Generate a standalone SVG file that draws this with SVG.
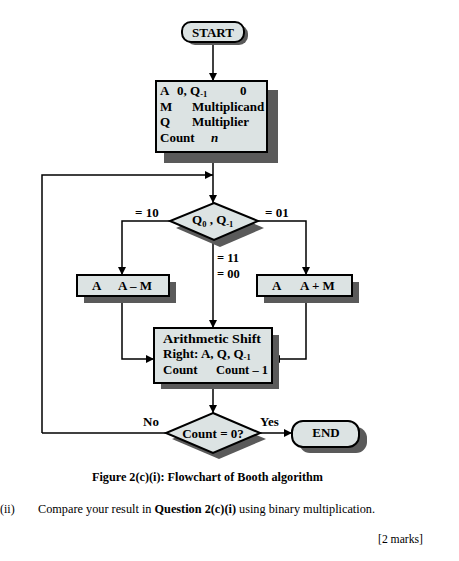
<svg xmlns="http://www.w3.org/2000/svg" width="459" height="561" viewBox="0 0 459 561">
<style>
text{font-family:"Liberation Serif","Times New Roman",serif;font-weight:bold;font-size:13px;fill:#000}
.n{font-weight:normal}
.box{fill:#dce3e3;stroke:#000;stroke-width:2}
.sh{fill:#5a5a5a}
.ln{fill:none;stroke:#000;stroke-width:1.5}
.sub{font-size:8.5px}
</style>
<defs>
<marker id="ah" viewBox="0 0 10 10" refX="10" refY="5" markerWidth="8" markerHeight="8" markerUnits="userSpaceOnUse" orient="auto">
<path d="M0,0 L10,5 L0,10 z" fill="#000"/>
</marker>
</defs>
<rect width="459" height="561" fill="#fff"/>
<g id="connectors">
<path class="ln" d="M213,42 V81" marker-end="url(#ah)"/>
<path class="ln" d="M213,152 V203" marker-end="url(#ah)"/>
<path class="ln" d="M42,433 V175 H213" marker-end="url(#ah)"/>
<path class="ln" d="M170,221 H122 V275" marker-end="url(#ah)"/>
<path class="ln" d="M258,221 H306 V275" marker-end="url(#ah)"/>
<path class="ln" d="M213,240 V328" marker-end="url(#ah)"/>
<path class="ln" d="M122,296 V359 H154" marker-end="url(#ah)"/>
<path class="ln" d="M306,296 V359 H272" marker-end="url(#ah)"/>
<path class="ln" d="M213,383 V413" marker-end="url(#ah)"/>
<path class="ln" d="M166,433 H42"/>
<path class="ln" d="M260,433 H292" marker-end="url(#ah)"/>
<text x="135" y="217">= 10</text>
<text x="265" y="217">= 01</text>
<text x="217" y="262" style="font-size:12.5px">= 11</text>
<text x="217" y="278" style="font-size:12.5px">= 00</text>
<text x="143" y="426">No</text>
<text x="260" y="426">Yes</text>
</g>
<g id="start">
<rect class="sh" x="186" y="25" width="62" height="20" rx="9"/>
<rect class="box" x="182" y="22" width="62" height="20" rx="9"/>
<text x="213" y="36.5" text-anchor="middle">START</text>
</g>
<g id="init">
<rect class="sh" x="164" y="90" width="114" height="73"/>
<rect class="box" x="156" y="81" width="111" height="71"/>
<text x="160" y="95">A</text>
<text x="177" y="95">0, Q<tspan class="sub" dy="2">-1</tspan></text>
<text x="240" y="95">0</text>
<text x="160" y="111">M</text>
<text x="192" y="111">Multiplicand</text>
<text x="160" y="126">Q</text>
<text x="192" y="126">Multiplier</text>
<text x="160" y="142">Count</text>
<text x="211" y="142" font-style="italic">n</text>
</g>
<g id="decision1">
<path class="sh" d="M220,209 L264,228 L220,247 L176,228 z"/>
<path class="box" d="M214,203 L258,221 L214,240 L170,221 z"/>
<text x="192" y="224">Q<tspan class="sub" dy="3">0</tspan><tspan dy="-3"> , Q</tspan><tspan class="sub" dy="3">-1</tspan></text>
</g>
<g id="sub">
<rect class="sh" x="84" y="282" width="92" height="21"/>
<rect class="box" x="77" y="275" width="92" height="21"/>
<text x="92" y="290">A</text>
<text x="118" y="290">A – M</text>
</g>
<g id="add">
<rect class="sh" x="264" y="282" width="95" height="21"/>
<rect class="box" x="257" y="275" width="95" height="21"/>
<text x="272" y="290">A</text>
<text x="300" y="290">A + M</text>
</g>
<g id="shift">
<rect class="sh" x="161" y="335" width="118" height="54"/>
<rect class="box" x="154" y="328" width="118" height="55"/>
<text x="163" y="343" textLength="98" lengthAdjust="spacingAndGlyphs">Arithmetic Shift</text>
<text x="163" y="358">Right: A, Q, Q<tspan class="sub" dy="2">-1</tspan></text>
<text x="163" y="374">Count</text>
<text x="216" y="374" textLength="52" lengthAdjust="spacingAndGlyphs">Count – 1</text>
</g>
<g id="decision2">
<path class="sh" d="M219,419 L266,439 L219,459 L172,439 z"/>
<path class="box" d="M213,413 L260,433 L213,453 L166,433 z"/>
<text x="213" y="437.5" text-anchor="middle">Count = 0?</text>
</g>
<g id="end">
<rect class="sh" x="299" y="427" width="68" height="26" rx="11"/>
<rect class="box" x="292" y="421" width="67" height="26" rx="11"/>
<text x="326" y="437" text-anchor="middle">END</text>
</g>
<g id="caption">
<text x="92" y="481" textLength="231" lengthAdjust="spacingAndGlyphs" style="font-size:12px">Figure 2(c)(i): Flowchart of Booth algorithm</text>
<text class="n" x="0" y="513" style="font-size:12px">(ii)</text>
<text class="n" x="38" y="513" textLength="337" lengthAdjust="spacingAndGlyphs" style="font-size:12px">Compare your result in <tspan font-weight="bold">Question 2(c)(i)</tspan> using binary multiplication.</text>
<text class="n" x="378" y="543" textLength="45" lengthAdjust="spacingAndGlyphs" style="font-size:12px">[2 marks]</text>
</g>
</svg>
